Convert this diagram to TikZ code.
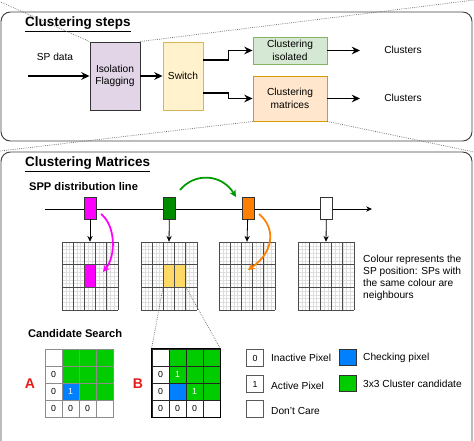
\documentclass[tikz,border=0pt]{standalone}
\usepackage{fontspec}
\setmainfont{Liberation Sans}
\usetikzlibrary{arrows.meta}

\definecolor{isofill}{HTML}{E1D5E7}
\definecolor{swfill}{HTML}{FFF2CC}
\definecolor{swdraw}{HTML}{D6B656}
\definecolor{cisofill}{HTML}{D5E8D4}
\definecolor{cisodraw}{HTML}{82B366}
\definecolor{cmatfill}{HTML}{FFE6CC}
\definecolor{cmatdraw}{HTML}{D79B00}
\definecolor{sppgreen}{HTML}{008A00}
\definecolor{sppmagenta}{HTML}{FF00FF}
\definecolor{spporange}{HTML}{FF8000}
\definecolor{cellyellow}{HTML}{FFD966}
\definecolor{cellgreen}{HTML}{00CC00}
\definecolor{cellblue}{HTML}{0080FF}
\definecolor{labelred}{HTML}{E51A1A}

\begin{document}
\begin{tikzpicture}[
    x=0.03cm,
    y=-0.03cm,
    panel/.style={draw=black!75, line width=0.8pt, rounded corners=8pt},
    zoomline/.style={black!60, densely dotted, line width=0.6pt},
    flow/.style={black, line width=1.3pt, -{Stealth[length=7pt,width=6.5pt]}},
    thinflow/.style={black, line width=0.7pt, -{Stealth[length=5pt,width=4.5pt]}},
    curl/.style={line width=1.5pt, -{Stealth[length=6pt,width=6pt]}},
    block/.style={draw, line width=0.8pt, align=center, inner sep=0pt,
                  font=\fontsize{8.7}{10.6}\selectfont},
    paneltitle/.style={anchor=west, font=\fontsize{11.5}{13}\selectfont\bfseries},
    subtitle/.style={anchor=west, font=\fontsize{9.5}{11}\selectfont\bfseries},
    plain/.style={font=\fontsize{8.7}{10.3}\selectfont},
    sppbox/.style={draw=black!80, line width=0.7pt, minimum width=0.36cm, minimum height=0.66cm, inner sep=0pt},
    minorline/.style={black!13, line width=0.3pt},
    majorline/.style={black!70, line width=0.7pt},
    cell/.style={minimum size=0.51cm, inner sep=0pt, font=\fontsize{7.5}{8}\selectfont},
    legendbox/.style={draw=black!65, line width=0.6pt, minimum size=0.49cm, inner sep=0pt,
                      font=\fontsize{7.5}{8}\selectfont}
]

\useasboundingbox (0,0) rectangle (474,440);

% =========================================================
% PARAMETERS
% =========================================================

\def\gw{56}   % grid width
\def\gh{68}   % grid height
\def\gtop{242}
\def\mtop{349}
\def\xA{45}
\def\xB{152}

% =========================================================
% CLUSTERING STEPS
% =========================================================

\draw[panel] (1,12) rectangle (472,141);
\node[paneltitle] (steps) at (21,24) {\underline{Clustering steps}};

% Blocks
\node[block, fill=isofill, draw=black!80, minimum width=1.5cm, minimum height=2.04cm]
    (iso) at (115,76) {Isolation\\Flagging};
\node[block, fill=swfill, draw=swdraw, minimum width=1.2cm, minimum height=2.04cm]
    (sw) at (183,76) {Switch};
\node[block, fill=cisofill, draw=cisodraw, minimum width=2.22cm, minimum height=0.81cm]
    (ciso) at (290,50.5) {Clustering\\isolated};
\node[block, fill=cmatfill, draw=cmatdraw, minimum width=2.22cm, minimum height=1.35cm]
    (cmat) at (290,98.5) {Clustering\\matrices};

% Labels
\node[plain] (spdata) at (55,57) {SP data};
\node[plain] (clus1) at (403,50) {Clusters};
\node[plain] (clus2) at (403,98) {Clusters};

\coordinate (in) at (28,76);
\coordinate (out1) at (360,50.5);
\coordinate (out2) at (360,98.5);

% Arrows
\draw[flow] (in) -- (iso);
\draw[flow] (iso) -- (sw);
\draw[flow] ([yshift=0.48cm]sw.east) -- ++(25,0) |- (ciso.west);
\draw[flow] ([yshift=-0.51cm]sw.east) -- ++(25,0) |- (cmat.west);
\draw[flow] (ciso) -- (out1);
\draw[flow] (cmat) -- (out2);

% Zoom lines
\coordinate (ztl) at (-4,0);
\coordinate (ztr) at (474,0);
\coordinate (zbl) at (0,151);
\coordinate (zbr) at (474,152);
\draw[zoomline] (ztl) -- (iso.north west);
\draw[zoomline] (iso.north east) -- (ztr);
\draw[zoomline] (cmat.south west) -- (zbl);
\draw[zoomline] (cmat.south east) -- (zbr);

% =========================================================
% CLUSTERING MATRICES
% =========================================================

\draw[panel] (1,152) rectangle (472,452);
\node[paneltitle] (matr) at (21,164) {\underline{Clustering Matrices}};
\node[subtitle] (sppl) at (25,187) {SPP distribution line};

% Distribution line
\coordinate (lstart) at (45,209);
\coordinate (lend) at (372,209);
\draw[thinflow] (lstart) -- (lend);

\foreach \c/\x [count=\i] in {sppmagenta/90, sppgreen/169.5, spporange/248, white/326.5}
    \node[sppbox, fill=\c] (spp\i) at (\x,208) {};

% Grids
\foreach \x [count=\i] in {90,169,247,326} {
    \node[minimum width=1.68cm, minimum height=2.04cm, inner sep=0pt] (grid\i) at (\x,276) {};
    \foreach \k in {1,...,14}
        \draw[minorline] (\x-28+\k*\gw/15,\gtop) -- ++(0,\gh);
    \foreach \k in {1,...,17}
        \draw[minorline] (\x-28,\gtop+\k*\gh/18) -- ++(\gw,0);
    \draw[thinflow] (spp\i) -- (grid\i.north);
}

\node[fill=sppmagenta, minimum width=0.336cm, minimum height=0.68cm, inner sep=0pt]
    (mcell) at (90,276) {};
\node[fill=cellyellow, draw=black!80, line width=0.8pt, minimum width=0.672cm,
    minimum height=0.68cm, inner sep=0pt] (ycell) at (174.6,276) {};

\foreach \x in {90,169,247,326} {
    \foreach \k in {0,...,5}
        \draw[majorline] (\x-28+\k*\gw/5,\gtop) -- ++(0,\gh);
    \foreach \k in {0,...,3}
        \draw[majorline] (\x-28,\gtop+\k*\gh/3) -- ++(\gw,0);
}

% Curved arrows
\coordinate (m0) at (101,214);
\coordinate (m1) at (103,272);
\coordinate (g0) at (180,190);
\coordinate (g1) at (236,197);
\coordinate (o0) at (259,214);
\coordinate (o1) at (248,270);
\draw[curl, sppmagenta] (m0) .. controls (116,226) and (116,256) .. (m1);
\draw[curl, green!60!black] (g0) .. controls (195,172) and (222,174) .. (g1);
\draw[curl, spporange] (o0) .. controls (276,228) and (274,252) .. (o1);

\node[plain, anchor=north west, align=left, inner sep=0pt] (note) at (363,255)
    {Colour represents the\\SP position: SPs with\\the same colour are\\neighbours};

% =========================================================
% CANDIDATE SEARCH
% =========================================================

\node[subtitle] (cand) at (24,334) {Candidate Search};

% Matrix A
\foreach \r/\c/\f/\t/\tc in {1/1/white/{}/black, 1/2/cellgreen/{}/black, 1/3/cellgreen/{}/black, 1/4/cellgreen/{}/black,
    2/1/white/0/black, 2/2/cellgreen/{}/black, 2/3/cellgreen/{}/black, 2/4/cellgreen/{}/black,
    3/1/white/0/black, 3/2/cellblue/1/white, 3/3/cellgreen/{}/black, 3/4/cellgreen/{}/black,
    4/1/white/0/black, 4/2/white/0/black, 4/3/white/0/black, 4/4/white/{}/black}
    \node[cell, fill=\f, text=\tc, draw=black!45, line width=0.5pt]
        (a\r\c) at (\xA+\c*17-8.5,\mtop+\r*17-8.5) {\t};

% Matrix B
\foreach \r/\c/\f/\t/\tc in {1/1/white/{}/black, 1/2/cellgreen/{}/black, 1/3/cellgreen/{}/black, 1/4/cellgreen/{}/black,
    2/1/white/0/black, 2/2/cellgreen/1/white, 2/3/cellgreen/{}/black, 2/4/cellgreen/{}/black,
    3/1/white/0/black, 3/2/cellblue/{}/black, 3/3/cellgreen/1/white, 3/4/cellgreen/{}/black,
    4/1/white/0/black, 4/2/white/0/black, 4/3/white/0/black, 4/4/white/{}/black}
    \node[cell, fill=\f, text=\tc, draw=black!85, line width=0.7pt]
        (b\r\c) at (\xB+\c*17-8.5,\mtop+\r*17-8.5) {\t};
\draw[black, line width=1.2pt] (b11.north west) rectangle (b44.south east);

\node[text=labelred, font=\fontsize{12}{14}\selectfont\bfseries] (labA) at (30,384) {A};
\node[text=labelred, font=\fontsize{12}{14}\selectfont\bfseries] (labB) at (138,384) {B};

% Zoom into B
\draw[zoomline] (ycell.south west) -- (b11.north west);
\draw[zoomline] (ycell.south east) -- (b14.north east);

% Legend
\node[legendbox] (l0) at (255,358) {0};
\node[legendbox] (l1) at (255,384) {1};
\node[legendbox] (ldc) at (255,409) {};
\node[plain, anchor=west] (t0) at (267,358) {Inactive Pixel};
\node[plain, anchor=west] (t1) at (267,386) {Active Pixel};
\node[plain, anchor=west] (tdc) at (267,411) {Don't Care};

\node[legendbox, fill=cellblue, draw=black!80] (lb) at (348,357.5) {};
\node[legendbox, fill=cellgreen, draw=black!80] (lg) at (348,383.5) {};
\node[plain, anchor=west] (tb) at (359,358) {Checking pixel};
\node[plain, anchor=west] (tg) at (359,384) {3x3 Cluster candidate};

\end{tikzpicture}
\end{document}
